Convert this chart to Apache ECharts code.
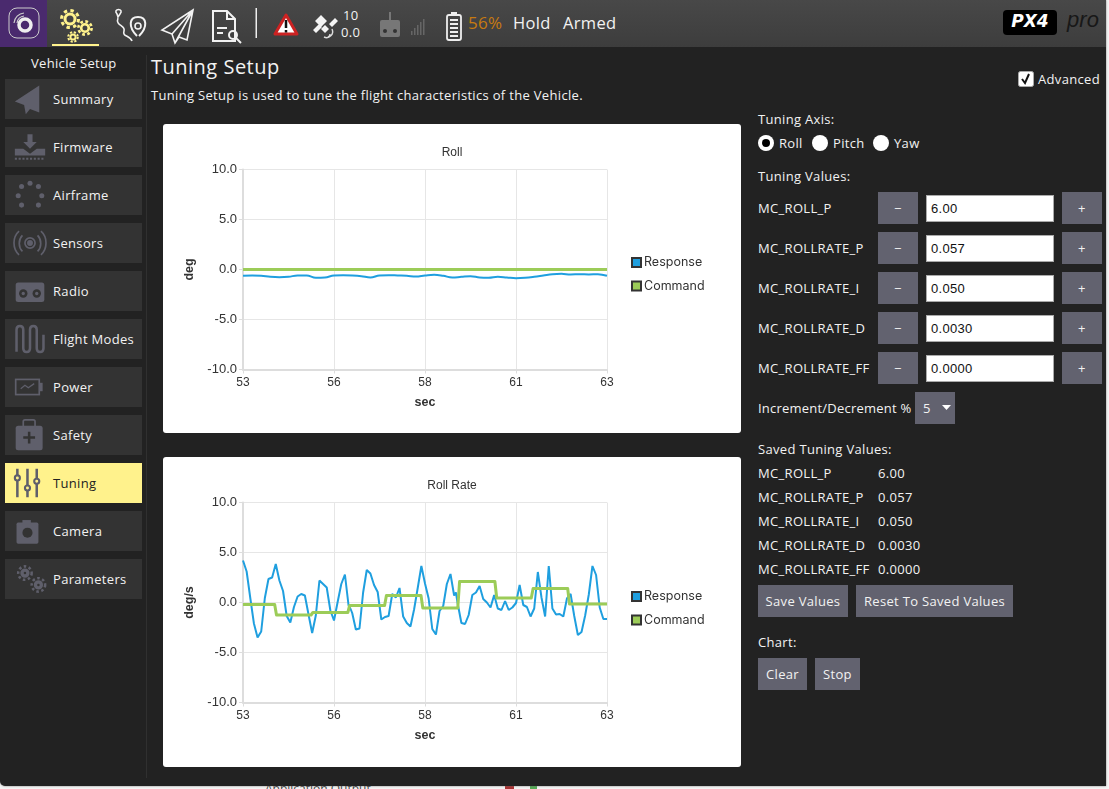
<!DOCTYPE html>
<html><head><meta charset="utf-8">
<script src="https://cdn.jsdelivr.net/npm/echarts@6/dist/echarts.min.js"></script>
<style>
html,body{margin:0;padding:0;width:1109px;height:789px;overflow:hidden;background:#f4f4f4;font-family:"Open Sans",sans-serif;}
#win{position:absolute;left:0;top:0;width:1106px;height:786px;background:#222;border-radius:0 0 0 5px;box-shadow:0 0 2px #666;}
.abs{position:absolute;}
.t{position:absolute;color:#f2f2f2;font-size:13px;line-height:16px;white-space:nowrap;transform:translateY(calc(-50% + 1px));letter-spacing:.32px;}
#bar{position:absolute;left:0;top:0;width:1106px;height:47px;background:linear-gradient(#484848,#3d3d3d);}
.nav{position:absolute;left:5px;width:137px;height:40px;background:#333;}
.nav.on{background:#fff28c;}
.nav span{position:absolute;left:48px;top:12px;font-size:13px;line-height:16px;color:#f2f2f2;letter-spacing:.32px;}
.nav.on span{color:#222;}
.nav svg{position:absolute;left:6px;top:4px;}
.btn{position:absolute;background:#62626f;color:#f2f2f2;font-size:13px;line-height:32px;height:32px;text-align:center;letter-spacing:.32px;}
.in{position:absolute;left:926px;padding-left:4px;height:25px;background:#fff;border:1px solid #aaa;box-sizing:content-box;width:122px;line-height:26px;font-size:13px;font-family:"Liberation Sans",sans-serif;color:#111;letter-spacing:.3px;}
.card{position:absolute;left:163px;width:578px;background:#fff;border-radius:3px;}
</style></head><body>
<div class="abs" style="left:265px;top:782px;font-size:12px;line-height:14px;color:#444">Application Output</div>
<div class="abs" style="left:505px;top:786px;width:9px;height:3px;background:#a33"></div>
<div class="abs" style="left:530px;top:786px;width:7px;height:3px;background:#5a5"></div>
<div id="win">
<div id="bar"></div>
<div class="abs" style="left:0;top:0;width:47px;height:47px;background:#4a2a6e"></div>
<svg class="abs" style="left:0;top:0" width="1106" height="47">
 <rect x="9" y="8" width="30" height="30" rx="8" fill="none" stroke="#ccc" stroke-width="1"/>
 <circle cx="25" cy="25" r="6" fill="none" stroke="#eee" stroke-width="3.500"/>
 <path d="M14 23a11 11 0 0 1 10-10M17 23a8 8 0 0 1 7-7" stroke="#ccc" fill="none" stroke-width="1.200"/>
 <g fill="none" stroke="#fff28c">
  <circle cx="70" cy="19" r="5" stroke-width="3"/><circle cx="70" cy="19" r="8.500" stroke-width="3" stroke-dasharray="3.400 3.300"/>
  <circle cx="85" cy="28" r="3.800" stroke-width="2.600"/><circle cx="85" cy="28" r="6.600" stroke-width="2.600" stroke-dasharray="2.800 2.400"/>
  <circle cx="73" cy="37" r="2.600" stroke-width="2"/><circle cx="73" cy="37" r="4.800" stroke-width="2" stroke-dasharray="2.200 1.600"/>
 </g>
 <rect x="52" y="44" width="47" height="2" fill="#fff28c"/>
 <g fill="none" stroke="#f2f2f2" stroke-width="1.600">
  <path d="M117 14c-5-6 8-6 3 0l-2 3zM118 18c-3 8 8 7 6 13s6 4 8 10"/>
  <path d="M137 36c-9-9-8-19 1-19s10 10 1 19" stroke-width="2"/><circle cx="138" cy="26" r="3"/>
  <path d="M193 10L162 30l10 4 3 9 4-6 8 3zM193 10L172 34M193 10L175 43"/>
  <path d="M213 11h14l8 8v22h-22zM227 11v8h8M217 28h10M217 33h6" stroke-width="2"/>
  <circle cx="233" cy="35" r="4" stroke-width="2"/><path d="M236 38l5 5" stroke-width="2"/>
 </g>
 <rect x="255.500" y="8" width="1.500" height="30" fill="#eee"/>
 <path d="M286 15L297 34H275Z" fill="#fff" stroke="#cc2222" stroke-width="3" stroke-linejoin="round"/>
 <path d="M286 20v8M286 30v2.500" stroke="#111" stroke-width="2.500"/>
 <g fill="#f4f4f4"><path d="M315 21l6-6 6 6-6 6zM321 29l4-4 4 4-4 4zM329 24l6-6 3 3-6 6zM313 30l6-6 3 3-6 6z"/></g>
 <path d="M324 37a6 6 0 0 0 8-8M328 37a3 3 0 0 0 2-3" stroke="#ddd" fill="none" stroke-width="1.400"/>
 <g fill="#777"><rect x="380" y="20" width="20" height="17" rx="2"/><rect x="389" y="12" width="2" height="9"/></g>
 <circle cx="385" cy="31" r="2" fill="#333"/><circle cx="395" cy="31" r="2" fill="#333"/>
 <g fill="#666"><rect x="411" y="31" width="1.500" height="4"/><rect x="414" y="28" width="1.500" height="7"/><rect x="417" y="25" width="1.500" height="10"/><rect x="420" y="22" width="1.500" height="13"/><rect x="423" y="19" width="1.500" height="16"/></g>
 <rect x="447" y="15" width="14" height="25" rx="2" fill="none" stroke="#eee" stroke-width="1.800"/><rect x="451" y="12" width="6" height="2.500" fill="#eee"/>
 <path d="M450 20h8M450 24h8M450 28h8M450 32h8M450 36h8" stroke="#eee" stroke-width="2"/>
 <rect x="1003" y="10" width="54" height="25" rx="4" fill="#000"/>
 <text x="1030" y="27" text-anchor="middle" font-family="DejaVu Sans" font-weight="bold" font-style="italic" font-size="17" fill="#fff">PX4</text>
 <text x="1083" y="27" text-anchor="middle" font-family="Liberation Sans" font-style="italic" font-size="22" fill="#181818">pro</text>
</svg>
<div class="t" style="left:343px;top:14px;letter-spacing:.3px">10</div>
<div class="t" style="left:341px;top:31px;letter-spacing:.3px">0.0</div>
<div class="t" style="left:468px;top:22px;font-size:17px;color:#c77a10">56%</div>
<div class="t" style="left:513px;top:22px;font-size:16.500px">Hold</div>
<div class="t" style="left:563px;top:22px;font-size:16.500px">Armed</div>

<div class="abs" style="left:146px;top:55px;width:1px;height:723px;background:#303030"></div>
<div class="t" style="left:31px;top:62px">Vehicle Setup</div>
<div id="side"></div>

<div class="t" style="left:151px;top:66px;font-size:20px;letter-spacing:.5px">Tuning Setup</div>
<div class="t" style="left:151px;top:94px">Tuning Setup is used to tune the flight characteristics of the Vehicle.</div>
<svg class="abs" style="left:1018px;top:71px" width="16" height="16"><rect x=".5" y=".5" width="15" height="15" rx="2" fill="#fff" stroke="#aaa"/><path d="M4 8l3 4 4-9" stroke="#111" stroke-width="2" fill="none"/></svg>
<div class="t" style="left:1038px;top:78px">Advanced</div>

<div class="card" style="top:124px;height:309px"><div id="c1" style="width:578px;height:309px"></div></div>
<div class="card" style="top:457px;height:310px"><div id="c2" style="width:578px;height:310px"></div></div>

<div class="t" style="left:758px;top:118px">Tuning Axis:</div>
<svg class="abs" style="left:758px;top:135px" width="140" height="16"><circle cx="8" cy="8" r="8" fill="#fff"/><circle cx="8" cy="8" r="4" fill="#000"/><circle cx="62" cy="8" r="8" fill="#fff"/><circle cx="123" cy="8" r="8" fill="#fff"/></svg>
<div class="t" style="left:779px;top:142px">Roll</div>
<div class="t" style="left:833px;top:142px">Pitch</div>
<div class="t" style="left:894px;top:142px">Yaw</div>
<div class="t" style="left:758px;top:175px">Tuning Values:</div>
<div id="rows"></div>
<div class="t" style="left:758px;top:407px;letter-spacing:.22px">Increment/Decrement %</div>
<div class="btn" style="left:915px;top:392px;width:40px;text-align:left"><span style="margin-left:8px">5</span></div>
<svg class="abs" style="left:942px;top:405px" width="10" height="6"><path d="M0 0h9l-4.500 5z" fill="#fff"/></svg>
<div class="t" style="left:758px;top:448px">Saved Tuning Values:</div>
<div id="saved"></div>
<div class="btn" style="left:758px;top:585px;width:90px">Save Values</div>
<div class="btn" style="left:856px;top:585px;width:157px">Reset To Saved Values</div>
<div class="t" style="left:758px;top:641px">Chart:</div>
<div class="btn" style="left:758px;top:658px;width:49px">Clear</div>
<div class="btn" style="left:815px;top:658px;width:45px">Stop</div>
</div>
<script>
var navItems = ["Summary","Firmware","Airframe","Sensors","Radio","Flight Modes","Power","Safety","Tuning","Camera","Parameters"];
var paramNames = ["MC_ROLL_P","MC_ROLLRATE_P","MC_ROLLRATE_I","MC_ROLLRATE_D","MC_ROLLRATE_FF"];
var paramValues = ["6.00","0.057","0.050","0.0030","0.0000"];
var xTickStart = 53, xTickEnd = 63, xTickStep = 2.5;

// Roll response, one value every 0.25 s from 53 s
var rollResponse = [-0.63,-0.6,-0.63,-0.73,-0.77,-0.73,-0.6,-0.6,-0.83,-0.8,-0.6,-0.57,-0.6,-0.67,-0.8,-0.6,-0.57,-0.6,-0.63,-0.7,-0.6,-0.53,-0.63,-0.8,-0.73,-0.67,-0.8,-0.83,-0.73,-0.8,-0.87,-0.83,-0.73,-0.6,-0.47,-0.43,-0.5,-0.47,-0.5,-0.47,-0.63];
// Roll command: start and end of the trace
var rollCommandTimes = [53,63];
var rollCommandValues = [0,0];

// Roll rate response, one value every 0.05 s from 53 s
var rateResponse = [
4.2,4.2,3.1,3.1,0.45,0.4,-2.1,-2.2,-3.5,-3.5,-2.9,-2.85,0.45,0.5,2.35,2.35,2.5,2.55,3.85,3.85,
2.2,2.2,1.15,1.05,-1.35,-1.35,-2.0,-2.0,-0.45,-0.4,0.6,0.65,0.85,0.85,0.7,0.7,-1.2,-1.25,-3.05,-3.05,
-1.3,-1.2,2.2,2.2,1.85,1.75,1.5,1.45,-0.8,-0.8,-1.8,-1.8,0.05,0.05,1.85,1.9,2.8,2.75,-0.3,-0.6,
-1.05,-1.1,-2.7,-2.7,-2.6,-2.6,1.0,1.0,3.25,3.25,2.9,2.9,1.75,1.75,1.05,1.05,-1.7,-1.7,-1.45,-1.45,
-1.35,-1.3,0.85,0.85,0.5,0.55,1.45,1.45,-1.4,-1.45,-2.05,-2.1,-2.4,-2.4,-0.7,-0.65,1.45,1.45,3.65,3.65,
1.9,1.9,0.4,0.45,-2.65,-2.7,-3.2,-3.2,-0.85,-0.8,-0.35,-0.35,1.85,1.95,2.85,2.85,0.7,1.0,-0.15,-0.2,
-2.05,-2.1,-2.15,-2.2,-1.25,-1.25,0.75,0.75,1.0,1.0,1.65,1.65,0.35,0.3,0,-0.1,-0.5,-0.5,0.75,0.75,
-0.6,-0.6,-0.75,-0.75,0.15,0.15,-0.75,-0.75,-0.5,-0.5,-0.05,-0.05,1.75,1.75,-0.25,-0.3,-0.45,-0.45,-1.4,-1.4,
-0.6,-0.6,3.05,3.05,0.5,0.45,-1.4,-1.4,3.65,3.65,-0.6,-0.6,-1.2,-1.2,-1.15,-1.15,-1.4,-1.4,0.4,0.4,
0.85,0.85,-1.35,-1.35,-3.25,-3.25,-2.95,-2.95,-1.3,-1.3,0.8,0.8,3.65,3.65,2.75,2.75,-0.5,-0.5,-1.65,-1.65,
-1.65];
// Roll rate command: corners of the stepped trace
var rateCommandTimes = [53,53.87,53.92,54.87,54.92,55.88,55.93,56.89,56.94,57.89,57.94,58.9,58.95,59.92,59.97,60.92,60.97,61.92,61.97,63];
var rateCommandValues = [-0.2,-0.2,-1.25,-1.25,-1.0,-1.0,-0.3,-0.3,0.7,0.7,-0.55,-0.55,2.1,2.1,0.45,0.45,1.4,1.4,-0.15,-0.15];

function pairs(ts, vs){ return vs.map(function(v,i){ return [ts[i], v]; }); }
function sampled(vs, start, dt){ return vs.map(function(v,i){ return [start + i*dt, v]; }); }

function chartOption(title, yName, resp, cmd, smooth){
  var font = '"Liberation Sans", sans-serif';
  return {
    animation:false,
    title:{text:title,left:284,top:18,textAlign:'center',textStyle:{fontSize:12,fontWeight:'normal',color:'#333',fontFamily:font}},
    legend:{orient:'vertical',left:463,top:yName==='deg'?127:128,itemWidth:9,itemHeight:9,itemGap:10.500,icon:'rect',
      textStyle:{fontSize:12.500,color:'#333',fontFamily:'Inter, sans-serif',padding:[0,0,0,-2]},
      data:['Response','Command'],selectedMode:false},
    grid:{left:80,top:45.5,width:364,height:200},
    xAxis:{type:'value',min:xTickStart,max:xTickEnd,interval:xTickStep,name:'sec',nameLocation:'middle',nameGap:27,
      nameTextStyle:{fontSize:12.500,fontWeight:'bold',color:'#333',fontFamily:font},
      axisLine:{onZero:false,lineStyle:{color:'#ddd',width:2}},axisTick:{length:4,lineStyle:{color:'#ddd'}},
      axisLabel:{fontSize:12,color:'#333',fontFamily:font,margin:7,formatter:function(v){return String(Math.round(v));}},
      splitLine:{show:true,lineStyle:{color:'#e6e6e6',width:1}}},
    yAxis:{type:'value',min:-10,max:10,interval:5,name:yName,nameLocation:'middle',nameGap:41,nameRotate:90,
      nameTextStyle:{fontSize:12.500,fontWeight:'bold',color:'#333',fontFamily:font},
      axisLine:{show:true,onZero:false,lineStyle:{color:'#ddd',width:2}},axisTick:{show:true,length:4,lineStyle:{color:'#ddd'}},
      axisLabel:{fontSize:13,color:'#333',fontFamily:font,margin:6,formatter:function(v){return v.toFixed(1);}},
      splitLine:{show:true,lineStyle:{color:'#e6e6e6',width:1}}},
    series:[
      {name:'Response',type:'line',data:resp,showSymbol:false,smooth:smooth,lineStyle:{color:'#1f9fdf',width:2,join:'bevel'},itemStyle:{color:'#1f9fdf',borderColor:'#333',borderWidth:1}},
      {name:'Command',type:'line',data:cmd,showSymbol:false,lineStyle:{color:'#9ccc58',width:3,join:'round'},itemStyle:{color:'#9ccc58',borderColor:'#333',borderWidth:1}}
    ]
  };
}
echarts.init(document.getElementById('c1')).setOption(chartOption('Roll','deg',sampled(rollResponse,53,0.25),pairs(rollCommandTimes,rollCommandValues),0.4));
echarts.init(document.getElementById('c2')).setOption(chartOption('Roll Rate','deg/s',sampled(rateResponse,53,0.05),pairs(rateCommandTimes,rateCommandValues),false));

// Interface furniture around the charts
var ic = '#5f5f6b';
var icons = [
 '<path d="M38 3L9 22l11 4 2 11 5-6 11 4z" fill="'+ic+'"/>',
 '<path d="M24 4h6v9h5l-8 8-8-8h5zM9 21h10l8 6 8-6h10v8H9z" fill="'+ic+'"/><path d="M9 33h36" stroke="'+ic+'" stroke-width="2.500" stroke-dasharray="2.500 2"/>',
 '<g fill="'+ic+'"><circle cx="27" cy="5" r="3"/><circle cx="37" cy="9" r="3"/><circle cx="17" cy="9" r="3"/><circle cx="13" cy="20" r="3"/><circle cx="41" cy="20" r="3"/><circle cx="17" cy="31" r="3"/><circle cx="37" cy="31" r="3"/></g>',
 '<g fill="none" stroke="'+ic+'" stroke-width="2"><circle cx="27" cy="19" r="6"/><path d="M18 10c-5 5-5 14 0 19M36 10c5 5 5 14 0 19M14 5c-8 7-8 21 0 28M40 5c8 7 8 21 0 28"/></g><circle cx="27" cy="19" r="3.500" fill="'+ic+'"/>',
 '<rect x="10" y="9" width="34" height="23" rx="3" fill="'+ic+'"/><circle cx="19" cy="22" r="5" fill="#333"/><circle cx="35" cy="22" r="5" fill="#333"/><circle cx="19" cy="22" r="2" fill="'+ic+'"/><circle cx="35" cy="22" r="2" fill="'+ic+'"/>',
 '<path d="M11 34V8c0-6 8-6 8 0v22c0 6 8 6 8 0V8c0-6 8-6 8 0v22c0 6 8 6 8 0V14" fill="none" stroke="'+ic+'" stroke-width="3"/>',
 '<rect x="10" y="10" width="28" height="18" fill="none" stroke="'+ic+'" stroke-width="2"/><rect x="38" y="14" width="4" height="10" fill="'+ic+'"/><path d="M16 21l5-4 4 3 7-5" fill="none" stroke="'+ic+'" stroke-width="1.500"/>',
 '<rect x="10" y="8" width="32" height="29" rx="3" fill="'+ic+'"/><rect x="19" y="1" width="14" height="9" rx="2" fill="none" stroke="'+ic+'" stroke-width="2"/><path d="M26 15v14M19 22h14" stroke="#333" stroke-width="3"/>',
 '<g stroke="'+ic+'" stroke-width="3" fill="none"><path d="M12 2v34M24 2v34M35 2v34"/></g><g fill="#fff28c" stroke="'+ic+'" stroke-width="2.500"><circle cx="12" cy="13" r="3"/><circle cx="24" cy="25" r="3"/><circle cx="35" cy="17" r="3"/></g>',
 '<rect x="11" y="9" width="26" height="25" rx="2" fill="'+ic+'"/><rect x="18" y="6" width="10" height="5" fill="'+ic+'"/><circle cx="24" cy="21" r="6" fill="#333"/>',
 '<g fill="none" stroke="'+ic+'"><circle cx="21" cy="12" r="3.500" stroke-width="4"/><circle cx="21" cy="12" r="8" stroke-width="3" stroke-dasharray="3 3"/><circle cx="37" cy="26" r="3.500" stroke-width="4"/><circle cx="37" cy="26" r="8" stroke-width="3" stroke-dasharray="3 3"/></g>'
];
document.getElementById('side').innerHTML = navItems.map(function(n,i){
  return '<div class="nav'+(n==='Tuning'?' on':'')+'" style="top:'+(79+48*i)+'px"><svg width="38" height="32" viewBox="6 0 42 38">'+icons[i]+'</svg><span>'+n+'</span></div>';
}).join('');
document.getElementById('rows').innerHTML = paramNames.map(function(n,i){
  var y = 208+40*i;
  return '<div class="t" style="left:758px;top:'+(y-1)+'px">'+n+'</div>'+
   '<div class="btn" style="left:878px;top:'+(y-16)+'px;width:40px">&#8722;</div>'+
   '<div class="in" style="top:'+(y-13)+'px">'+paramValues[i]+'</div>'+
   '<div class="btn" style="left:1062px;top:'+(y-16)+'px;width:40px">+</div>';
}).join('');
document.getElementById('saved').innerHTML = paramNames.map(function(n,i){
  var y = 472+24*i;
  return '<div class="t" style="left:758px;top:'+y+'px">'+n+'</div><div class="t" style="left:878px;top:'+y+'px">'+paramValues[i]+'</div>';
}).join('');
</script>
</body></html>
